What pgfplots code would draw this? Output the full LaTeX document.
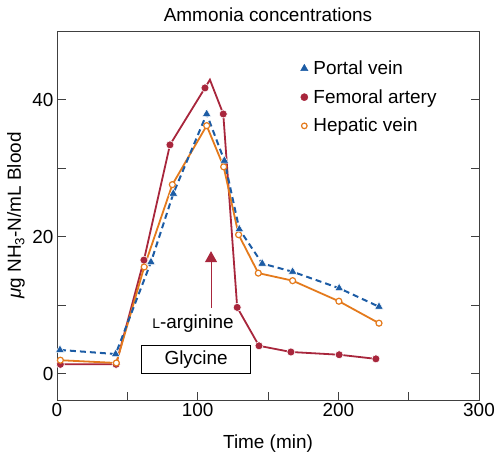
\documentclass[border=0pt]{standalone}
\usepackage{fontspec}
\setmainfont{Liberation Sans}
\usepackage{pgfplots}
\pgfplotsset{compat=1.18}
\usetikzlibrary{arrows.meta}
\definecolor{cblue}{RGB}{28,92,165}
\definecolor{cred}{RGB}{168,38,60}
\definecolor{corange}{RGB}{228,122,28}
\newcommand{\bigf}{\fontsize{19}{22}\selectfont}
\begin{document}
\begin{tikzpicture}
\begin{axis}[
  name=ax,
  scale only axis,
  width=422bp, height=369bp,
  xmin=0, xmax=300, ymin=-3.8, ymax=50,
  xtick={0,50,...,300},
  xticklabels={0,,100,,200,,300},
  ytick={0,10,...,40},
  yticklabels={0,,20,,40},
  xtick pos=lower,
  ytick pos=both,
  tick align=inside,
  major tick length=8.5bp,
  axis line style={black!75, line width=0.9bp},
  every tick/.style={black!75, line width=0.9bp},
  /pgf/number format/assume math mode=true,
  tick label style={font=\bigf},
  label style={font=\bigf},
  title style={font=\bigf},
  title={Ammonia concentrations},
  xlabel={Time (min)},
  ylabel={{\itshape μ}g NH\textsubscript{3}-N/mL Blood},
  xlabel style={at={(axis description cs:0.5,-0.118)}, anchor=center},
  ylabel style={at={(axis description cs:-0.097,0.5)}, anchor=center},
  legend style={draw=none, fill=none, at={(0.577,0.925)}, anchor=north west,
    font=\bigf, row sep=9.5bp, inner sep=0pt,
    nodes={inner xsep=5.5bp}},
  legend cell align=left,
  legend image code/.code={\draw[#1] plot coordinates {(0.15cm,0cm)};},
]
\addlegendimage{only marks, mark=triangle*, mark size=4.2bp, color=cblue}
\addlegendentry{Portal vein}
\addlegendimage{only marks, mark=*, mark size=3.6bp, color=cred}
\addlegendentry{Femoral artery}
\addlegendimage{only marks, mark=*, mark size=2.8bp, mark options={draw=corange, fill=white, line width=1.2bp}}
\addlegendentry{Hepatic vein}

% Femoral artery
\addplot[forget plot, color=cred, line width=1.8bp, mark=*, mark size=4bp,
  mark indices={1,2,3,4,5,7,8,9,10,11,12}, mark options={solid, fill=cred, draw=white, line width=0.6bp}]
  coordinates {
  (2.4,1.4) (42,1.4) (61.8,16.6) (80.3,33.4) (105.2,41.7) (108.7,42.9)
  (118.2,37.9) (128.1,9.7) (143.6,4.1) (166.3,3.2) (200.6,2.8) (226.7,2.2)
  };

% Hepatic vein
\addplot[forget plot, color=corange, line width=1.8bp, mark=*, mark size=3bp,
  mark options={solid, fill=white, draw=corange, line width=1.2bp}]
  coordinates {
  (2.4,2.0) (42.2,1.6) (62,15.6) (82,27.6) (106.4,36.2) (118.5,30.2)
  (129.1,20.3) (143.1,14.7) (167.5,13.6) (200.4,10.6) (228.9,7.4)
  };

% Portal vein
\addplot[forget plot, color=cblue, line width=2bp, dash pattern=on 6bp off 4bp,
  mark=triangle*, mark size=5bp, mark options={solid, fill=cblue, draw=white, line width=0.5bp}]
  coordinates {
  (2.1,3.5) (41.7,2.9) (66.8,16.3) (82.7,26.3) (106.4,37.9) (119,31.1)
  (129.6,21.1) (145.9,16.1) (167.5,14.9) (200.6,12.5) (228.9,9.8)
  };

\draw[black, line width=1bp] (axis cs:60.2,0) rectangle (axis cs:137.6,4.1);
\node[font=\bigf] at (axis cs:98.9,2.05) {Glycine};
\node[font=\bigf] at (axis cs:96.7,7.3) {{\fontsize{14}{16}\selectfont L}-arginine};
\draw[cred, line width=1bp, -{Triangle[width=12bp,length=11bp]}] (axis cs:109.5,9.6) -- (axis cs:109.5,17.9);
\end{axis}
\path (ax.south west) +(-57bp,-58bp);
\path (ax.north east) +(21bp,31bp);
\end{tikzpicture}
\end{document}
